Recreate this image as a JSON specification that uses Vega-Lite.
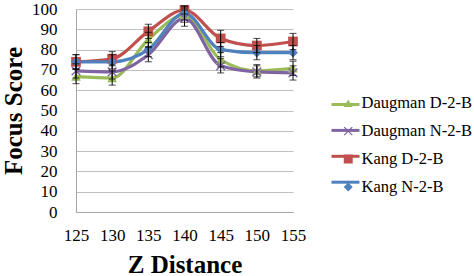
{
  "$schema": "https://vega.github.io/schema/vega-lite/v6.json",
  "autosize": "none",
  "width": 217,
  "height": 203,
  "padding": {"left": 76, "top": 9, "right": 181, "bottom": 64},
  "background": "white",
  "config": {
    "font": "Times New Roman",
    "view": {"stroke": null},
    "axis": {"labelFont": "Times New Roman", "titleFont": "Times New Roman", "labelColor": "black", "titleColor": "black"},
    "legend": {"labelFont": "Times New Roman", "labelFontSize": 16.5, "labelColor": "black", "padding": 0}
  },
  "data": {
    "values": [
      {"series": "Daugman D-2-B", "z": 125, "score": 66.7, "err": 3.5},
      {"series": "Daugman D-2-B", "z": 130, "score": 66.0, "err": 3.5},
      {"series": "Daugman D-2-B", "z": 135, "score": 85.0, "err": 3.5},
      {"series": "Daugman D-2-B", "z": 140, "score": 97.0, "err": 3.5},
      {"series": "Daugman D-2-B", "z": 145, "score": 75.0, "err": 3.5},
      {"series": "Daugman D-2-B", "z": 150, "score": 69.6, "err": 3.0},
      {"series": "Daugman D-2-B", "z": 155, "score": 70.8, "err": 3.5},
      {"series": "Daugman N-2-B", "z": 125, "score": 69.5, "err": 3.5},
      {"series": "Daugman N-2-B", "z": 130, "score": 69.0, "err": 3.5},
      {"series": "Daugman N-2-B", "z": 135, "score": 77.5, "err": 3.5},
      {"series": "Daugman N-2-B", "z": 140, "score": 95.5, "err": 4.0},
      {"series": "Daugman N-2-B", "z": 145, "score": 72.0, "err": 3.5},
      {"series": "Daugman N-2-B", "z": 150, "score": 69.0, "err": 3.0},
      {"series": "Daugman N-2-B", "z": 155, "score": 68.5, "err": 3.5},
      {"series": "Kang D-2-B", "z": 125, "score": 74.0, "err": 3.5},
      {"series": "Kang D-2-B", "z": 130, "score": 75.5, "err": 3.5},
      {"series": "Kang D-2-B", "z": 135, "score": 89.0, "err": 3.5},
      {"series": "Kang D-2-B", "z": 140, "score": 99.5, "err": 2.0},
      {"series": "Kang D-2-B", "z": 145, "score": 85.5, "err": 4.0},
      {"series": "Kang D-2-B", "z": 150, "score": 82.0, "err": 3.5},
      {"series": "Kang D-2-B", "z": 155, "score": 84.0, "err": 4.0},
      {"series": "Kang N-2-B", "z": 125, "score": 74.0, "err": 3.5},
      {"series": "Kang N-2-B", "z": 130, "score": 74.0, "err": 3.5},
      {"series": "Kang N-2-B", "z": 135, "score": 80.0, "err": 3.5},
      {"series": "Kang N-2-B", "z": 140, "score": 98.0, "err": 3.5},
      {"series": "Kang N-2-B", "z": 145, "score": 80.0, "err": 3.5},
      {"series": "Kang N-2-B", "z": 150, "score": 78.5, "err": 3.5},
      {"series": "Kang N-2-B", "z": 155, "score": 78.5, "err": 3.5}
    ]
  },
  "encoding": {
    "x": {
      "field": "z", "type": "quantitative",
      "scale": {"domain": [125, 155], "nice": false, "zero": false},
      "axis": {
        "title": "Z Distance", "titleFontSize": 25, "titleFontWeight": "bold",
        "titleFont": "Times New Roman", "labelFont": "Times New Roman",
        "titleY": 60, "titleBaseline": "alphabetic",
        "values": [125, 130, 135, 140, 145, 150, 155],
        "labelFontSize": 17, "labelPadding": 15, "ticks": false,
        "grid": false, "domainColor": "#a6a6a6", "labelFlush": false
      }
    },
    "y": {
      "field": "score", "type": "quantitative",
      "scale": {"domain": [0, 100], "nice": false},
      "axis": {
        "title": "Focus Score", "titleFontSize": 25, "titleFontWeight": "bold",
        "titleFont": "Times New Roman", "labelFont": "Times New Roman",
        "titleX": -63, "titleBaseline": "middle",
        "values": [0, 10, 20, 30, 40, 50, 60, 70, 80, 90, 100],
        "labelFontSize": 17, "labelPadding": 19, "ticks": false,
        "grid": true, "gridColor": "#bfbfbf", "domainColor": "#a6a6a6"
      }
    }
  },
  "layer": [
    {
      "mark": {"type": "line", "interpolate": "monotone", "strokeWidth": 3.2},
      "encoding": {
        "color": {
          "field": "series", "type": "nominal",
          "scale": {
            "domain": ["Daugman D-2-B", "Daugman N-2-B", "Kang D-2-B", "Kang N-2-B"],
            "range": ["#9bbb59", "#8064a2", "#c0504d", "#4f81bd"]
          },
          "legend": {
            "orient": "none", "legendX": 254, "legendY": 80, "title": null,
            "symbolType": "stroke", "symbolSize": 784, "symbolStrokeWidth": 3,
            "labelOpacity": 0, "rowPadding": 1.9,
            "labelFont": "Times New Roman"
          }
        }
      }
    },
    {
      "mark": {"type": "point", "filled": true, "size": 95, "opacity": 1},
      "encoding": {
        "color": {
          "field": "series", "type": "nominal",
          "legend": {
            "orient": "none", "legendX": 264, "legendY": 86, "title": null,
            "symbolSize": 80, "labelOffset": 5, "rowPadding": 10.9,
            "labelFont": "Times New Roman"
          }
        },
        "shape": {
          "field": "series", "type": "nominal",
          "scale": {
            "domain": ["Daugman D-2-B", "Daugman N-2-B", "Kang D-2-B", "Kang N-2-B"],
            "range": [
              "triangle-up",
              "M-1,-0.8L-0.8,-1L0,-0.2L0.8,-1L1,-0.8L0.2,0L1,0.8L0.8,1L0,0.2L-0.8,1L-1,0.8L-0.2,0Z",
              "square",
              "diamond"
            ]
          },
          "legend": {
            "orient": "none", "legendX": 264, "legendY": 86, "title": null,
            "symbolSize": 80, "labelOffset": 5, "rowPadding": 10.9,
            "labelFont": "Times New Roman"
          }
        }
      }
    },
    {
      "mark": {
        "type": "errorbar", "color": "black",
        "rule": {"strokeWidth": 1},
        "ticks": {"size": 7, "strokeWidth": 1}
      },
      "encoding": {
        "yError": {"field": "err"}
      }
    }
  ],
  "resolve": {"legend": {"color": "independent", "shape": "independent"}}
}
